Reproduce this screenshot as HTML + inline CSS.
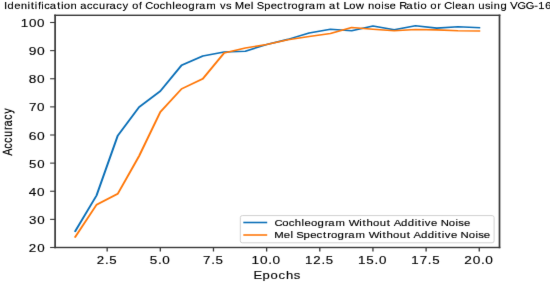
<!DOCTYPE html>
<html><head><meta charset="utf-8"><style>
html,body{margin:0;padding:0;background:#fff;overflow:hidden;}
svg{display:block;will-change:transform;}
text{font-family:"Liberation Sans",sans-serif;font-size:20.0px;font-kerning:none;fill:#000;stroke:#000;stroke-width:0.15px;vector-effect:non-scaling-stroke;}
</style></head><body>
<svg width="550" height="284" viewBox="0 0 550 284">
<defs><filter id="bl" x="-5%" y="-5%" width="110%" height="110%" color-interpolation-filters="sRGB"><feConvolveMatrix order="3" kernelMatrix="0.00490 0.06020 0.00490 0.06020 0.73960 0.06020 0.00490 0.06020 0.00490" divisor="1" preserveAlpha="false" edgeMode="duplicate"/></filter></defs>
<g filter="url(#bl)">
<rect x="0" y="0" width="550" height="284" fill="#fff"/>
<g transform="scale(1 0.79)">
<polyline points="75.26,292.64 96.53,247.43 117.79,171.60 139.05,135.64 160.31,115.35 181.58,82.59 202.84,70.85 224.10,65.86 245.37,64.79 266.63,56.25 287.89,49.84 309.16,41.65 330.42,37.03 351.68,38.98 372.95,32.90 394.21,37.74 415.47,32.65 436.73,35.60 458.00,33.93 479.26,35.07" fill="none" stroke="#0c70b8" stroke-width="2.0" stroke-linejoin="round" stroke-linecap="square"/>
<polyline points="75.26,299.76 96.53,259.18 117.79,245.29 139.05,197.59 160.31,141.69 181.58,112.50 202.84,99.68 224.10,67.11 245.37,60.88 266.63,56.25 287.89,50.20 309.16,46.28 330.42,42.37 351.68,34.71 372.95,36.95 394.21,38.98 415.47,37.38 436.73,37.84 458.00,38.98 479.26,39.23" fill="none" stroke="#ff780a" stroke-width="2.0" stroke-linejoin="round" stroke-linecap="square"/>
</g>
<rect x="54.25" y="14.600000000000001" width="1.7" height="233.6" fill="#383838"/>
<rect x="498.65" y="14.600000000000001" width="1.7" height="233.6" fill="#383838"/>
<rect x="54.25" y="14.600000000000001" width="446.09999999999997" height="1.4" fill="#383838"/>
<rect x="54.25" y="246.8" width="446.09999999999997" height="1.4" fill="#383838"/>
<rect x="50.1" y="246.95" width="5" height="1.1" fill="#383838"/>
<text x="0.32 12.87" y="0" transform="matrix(0.66794 0 0 0.58278 28.542 252.060)">20</text>
<rect x="50.1" y="218.825" width="5" height="1.1" fill="#383838"/>
<text x="0.62 12.90" y="0" transform="matrix(0.66650 0 0 0.58278 28.542 223.935)">30</text>
<rect x="50.1" y="190.7" width="5" height="1.1" fill="#383838"/>
<text x="0.47 12.54" y="0" transform="matrix(0.67996 0 0 0.58278 28.542 195.810)">40</text>
<rect x="50.1" y="162.575" width="5" height="1.1" fill="#383838"/>
<text x="0.57 13.06" y="0" transform="matrix(0.66088 0 0 0.58278 28.542 167.685)">50</text>
<rect x="50.1" y="134.45" width="5" height="1.1" fill="#383838"/>
<text x="0.37 12.23" y="0" transform="matrix(0.69160 0 0 0.58278 28.542 139.560)">60</text>
<rect x="50.1" y="106.325" width="5" height="1.1" fill="#383838"/>
<text x="0.50 12.74" y="0" transform="matrix(0.67269 0 0 0.58278 28.542 111.434)">70</text>
<rect x="50.1" y="78.2" width="5" height="1.1" fill="#383838"/>
<text x="0.44 12.44" y="0" transform="matrix(0.68357 0 0 0.58278 28.542 83.309)">80</text>
<rect x="50.1" y="50.075" width="5" height="1.1" fill="#383838"/>
<text x="0.31 12.25" y="0" transform="matrix(0.69090 0 0 0.58278 28.542 55.184)">90</text>
<rect x="50.1" y="21.95" width="5" height="1.1" fill="#383838"/>
<text x="0.46 12.80 25.04" y="0" transform="matrix(0.67043 0 0 0.58278 20.335 27.059)">100</text>
<rect x="106.5075" y="247.5" width="1.3" height="4" fill="#383838"/>
<text x="0.46 12.92 19.49" y="0" transform="matrix(0.66311 0 0 0.56476 96.384 263.700)">2.5</text>
<rect x="159.665" y="247.5" width="1.3" height="4" fill="#383838"/>
<text x="0.54 12.65 19.14" y="0" transform="matrix(0.67454 0 0 0.56476 149.378 263.700)">5.0</text>
<rect x="212.82250000000002" y="247.5" width="1.3" height="4" fill="#383838"/>
<text x="0.64 12.82 19.33" y="0" transform="matrix(0.66749 0 0 0.56476 202.641 263.700)">7.5</text>
<rect x="265.98" y="247.5" width="1.3" height="4" fill="#383838"/>
<text x="0.44 12.75 24.68 31.06" y="0" transform="matrix(0.68262 0 0 0.56476 251.311 263.700)">10.0</text>
<rect x="319.13750000000005" y="247.5" width="1.3" height="4" fill="#383838"/>
<text x="0.63 13.06 25.54 32.12" y="0" transform="matrix(0.66203 0 0 0.56476 304.606 263.700)">12.5</text>
<rect x="372.2950000000001" y="247.5" width="1.3" height="4" fill="#383838"/>
<text x="0.56 13.01 25.19 31.74" y="0" transform="matrix(0.67014 0 0 0.56476 357.626 263.700)">15.0</text>
<rect x="425.45250000000004" y="247.5" width="1.3" height="4" fill="#383838"/>
<text x="0.60 13.19 25.40 31.95" y="0" transform="matrix(0.66511 0 0 0.56476 410.921 263.700)">17.5</text>
<rect x="478.61000000000007" y="247.5" width="1.3" height="4" fill="#383838"/>
<text x="0.27 12.71 24.62 30.98" y="0" transform="matrix(0.68408 0 0 0.56476 464.181 263.700)">20.0</text>
<text x="-0.44 13.44 25.71 37.58 49.03 61.19" y="0" transform="matrix(0.65392 0 0 0.56423 253.825 278.500)">Epochs</text>
<g transform="matrix(0 -1 1 0 0 0)">
<text x="-0.01 13.11 23.82 34.97 47.80 54.43 66.81 78.15" y="0" transform="matrix(0.53652 0 0 0.65165 -155.682 11.900)">Accuracy</text>
</g>
<text x="0.04 6.02 18.11 30.04 42.06 47.84 54.86 60.55 66.89 71.78 81.83 94.88 101.89 107.04 118.98 136.20 148.35 158.85 169.78 182.40 188.86 201.02 212.15 229.16 241.39 252.70 266.98 278.41 289.39 301.42 306.65 318.34 330.12 342.83 349.29 362.45 386.75 397.52 413.35 430.26 442.09 452.54 465.79 477.65 489.07 500.46 508.00 514.76 526.54 539.25 545.71 558.86 582.09 595.14 607.94 618.38 630.36 652.01 663.87 675.71 680.68 690.88 708.07 720.77 733.82 740.84 745.99 763.75 776.12 788.41 802.84 808.07 819.04 831.71 849.81 861.57 871.86 877.25 889.21 906.88 919.71 934.51 949.81 957.00 969.25" y="0" transform="matrix(0.55806 0 0 0.47682 4.150 8.900)">IdenitificationaccuracyofCochleogramvsMelSpectrogramatLownoiseRatioorCleanusingVGG-16</text>
<rect x="240.3" y="215.6" width="253.8" height="27.2" rx="2" ry="2" fill="#fff" fill-opacity="0.8" stroke="#d0d0d0" stroke-width="1"/>
<g transform="scale(1 0.79)">
<line x1="244.3" y1="281.65" x2="266.2" y2="281.65" stroke="#0c70b8" stroke-width="2.0" stroke-linecap="square"/>
<line x1="244.3" y1="297.47" x2="266.2" y2="297.47" stroke="#ff780a" stroke-width="2.0" stroke-linecap="square"/>
</g>
<text x="-0.76 13.34 24.60 35.41 47.32 52.42 63.93 75.54 88.08 94.41 107.34 130.63 149.36 155.05 161.98 173.69 185.37 197.79 210.05 223.13 235.08 247.12 252.81 259.73 265.12 275.96 293.06 307.53 319.24 324.10 334.14" y="0" transform="matrix(0.56596 0 0 0.48741 274.800 225.600)">CochleogramWithoutAdditiveNoise</text>
<text x="-0.25 16.39 28.05 38.19 51.20 62.82 74.02 85.24 92.61 99.19 110.74 123.23 129.51 142.36 165.52 184.20 189.85 196.73 208.38 220.00 232.37 244.55 257.57 269.45 281.45 287.11 293.99 299.35 310.12 327.13 341.53 353.20 358.02 368.00" y="0" transform="matrix(0.56891 0 0 0.48741 274.500 237.900)">MelSpectrogramWithoutAdditiveNoise</text>
</g>
</svg>
</body></html>
